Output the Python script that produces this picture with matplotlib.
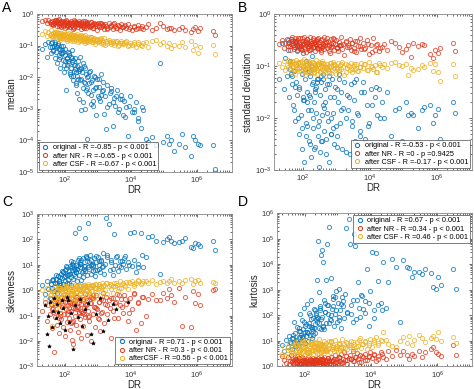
import numpy as np
import matplotlib
matplotlib.use("Agg")
import matplotlib.pyplot as plt

plt.rcParams['font.family'] = ['Liberation Sans', 'DejaVu Sans']

# log10 of DR for every sample (shared by all four panels)
DR_LOG = [
    1.31, 1.38, 1.44, 1.49, 1.53, 1.57, 1.60, 1.63, 1.66, 1.69,
    1.71, 1.73, 1.75, 1.77, 1.79, 1.81, 1.83, 1.85, 1.87, 1.89,
    1.91, 1.93, 1.95, 1.97, 1.99, 2.01, 2.03, 2.05, 2.07, 2.09,
    2.11, 2.13, 2.15, 2.17, 2.19, 2.21, 2.23, 2.25, 2.27, 2.29,
    2.31, 2.33, 2.35, 2.37, 2.39, 2.41, 2.43, 2.45, 2.47, 2.49,
    2.51, 2.53, 2.55, 2.57, 2.59, 2.61, 2.63, 2.65, 2.67, 2.69,
    2.72, 2.75, 2.78, 2.81, 2.84, 2.87, 2.90, 2.93, 2.96, 2.99,
    3.02, 3.05, 3.08, 3.11, 3.14, 3.17, 3.20, 3.24, 3.28, 3.32,
    3.36, 3.40, 3.44, 3.48, 3.52, 3.56, 3.60, 3.65, 3.70, 3.75,
    3.80, 3.86, 3.92, 3.98, 4.04, 4.10, 4.16, 4.22, 4.29, 4.36,
    4.44, 4.52, 4.62, 4.75, 4.88, 4.96, 5.08, 5.15, 5.22, 5.30,
    5.45, 5.55, 5.62, 5.80, 5.88, 5.95, 6.02, 6.10, 6.48, 6.55,
    1.56, 1.65, 1.74, 1.82, 1.90, 1.98, 2.06, 2.14, 2.22, 2.30,
    1.62, 1.78, 1.86, 1.94, 2.02, 2.10, 2.18, 2.26, 2.34, 2.42,
    2.38, 2.46, 2.54, 2.62, 2.70, 2.78, 2.86, 2.94, 3.02, 3.10,
    1.70, 1.84, 2.00, 2.12, 2.24, 2.36, 2.48, 2.60, 2.72, 2.84,
    2.20, 2.32, 2.44, 2.56, 2.68, 2.80, 2.92, 3.04, 3.16, 3.28,
    3.38, 3.46, 3.54, 3.62, 3.72, 3.82, 3.95, 4.08, 4.20, 4.32,
]

# ---- A: median (log10) ----
median_orig = [
    -1.10, -0.95, -1.35, -0.90, -1.05, -1.25, -0.88, -1.15, -1.00, -1.40,
    -0.95, -1.20, -1.05, -1.55, -0.92, -1.30, -1.12, -1.70, -1.02, -1.25,
    -1.15, -1.45, -1.00, -1.85, -1.30, -1.10, -2.40, -1.38, -1.60, -1.20,
    -1.25, -1.55, -1.90, -1.35, -1.70, -1.15, -2.10, -1.45, -1.80, -1.60,
    -1.40, -2.25, -1.65, -1.95, -1.50, -2.70, -1.75, -1.35, -2.05, -3.05,
    -1.85, -2.80, -1.55, -2.15, -3.00, -1.70, -2.40, -2.00, -3.95, -1.95,
    -2.20, -1.80, -2.55, -2.10, -2.90, -1.95, -2.35, -3.20, -2.05, -2.60,
    -2.30, -2.75, -1.90, -2.45, -2.15, -3.15, -2.60, -3.65, -2.25, -2.85,
    -2.50, -2.35, -3.55, -2.65, -2.90, -2.40, -3.10, -2.70, -2.55, -3.20,
    -2.75, -2.95, -3.85, -2.60, -3.10, -3.00, -2.80, -3.30, -3.60, -3.05,
    -3.95, -4.05, -3.90, -4.15, -1.55, -4.05, -3.85, -4.10, -4.00, -4.35,
    -4.10, -3.80, -4.20, -4.50, -3.85, -4.00, -4.10, -4.15, -4.15, -4.90,
    -0.92, -1.18, -1.02, -1.42, -1.25, -1.60, -1.38, -1.85, -1.52, -1.75,
    -1.05, -0.98, -1.35, -1.20, -1.70, -1.48, -1.95, -1.62, -2.20, -1.80,
    -2.05, -1.75, -2.35, -1.90, -2.50, -2.15, -2.75, -2.30, -2.05, -2.55,
    -0.88, -1.10, -1.50, -1.30, -1.95, -2.50, -1.70, -2.20, -1.85, -2.40,
    -1.40, -1.85, -2.10, -1.65, -2.35, -2.85, -2.00, -2.65, -2.40, -2.95,
    -2.45, -2.80, -2.60, -3.00, -2.70, -3.25, -2.90, -3.10, -3.40, -2.95,
]
median_nr = [
    -0.22, -0.20, -0.28, -0.18, -0.25, -0.32, -0.21, -0.35, -0.27, -0.19,
    -0.30, -0.24, -0.38, -0.22, -0.29, -0.17, -0.33, -0.26, -0.41, -0.23,
    -0.28, -0.36, -0.21, -0.31, -0.25, -0.44, -0.19, -0.34, -0.27, -0.38,
    -0.24, -0.32, -0.40, -0.22, -0.29, -0.35, -0.26, -0.46, -0.20, -0.31,
    -0.37, -0.25, -0.33, -0.28, -0.42, -0.23, -0.30, -0.36, -0.26, -0.48,
    -0.29, -0.34, -0.22, -0.39, -0.31, -0.27, -0.44, -0.33, -0.25, -0.37,
    -0.30, -0.41, -0.26, -0.35, -0.45, -0.28, -0.38, -0.32, -0.50, -0.30,
    -0.36, -0.27, -0.42, -0.33, -0.39, -0.47, -0.31, -0.37, -0.44, -0.29,
    -0.40, -0.34, -0.48, -0.30, -0.38, -0.43, -0.35, -0.52, -0.32, -0.41,
    -0.37, -0.45, -0.33, -0.42, -0.50, -0.38, -0.46, -0.35, -0.43, -0.49,
    -0.40, -0.32, -0.52, -0.45, -0.30, -0.38, -0.46, -0.45, -0.44, -0.50,
    -0.47, -0.42, -0.51, -0.58, -0.46, -0.40, -0.53, -0.45, -0.55, -0.65,
    -0.26, -0.33, -0.20, -0.37, -0.24, -0.30, -0.42, -0.27, -0.35, -0.22,
    -0.31, -0.19, -0.28, -0.39, -0.23, -0.34, -0.29, -0.43, -0.25, -0.36,
    -0.32, -0.27, -0.40, -0.30, -0.36, -0.24, -0.44, -0.33, -0.38, -0.28,
    -0.21, -0.36, -0.26, -0.32, -0.41, -0.28, -0.35, -0.23, -0.39, -0.31,
    -0.34, -0.27, -0.31, -0.45, -0.29, -0.37, -0.33, -0.41, -0.35, -0.46,
    -0.39, -0.33, -0.45, -0.37, -0.42, -0.35, -0.48, -0.40, -0.44, -0.38,
]
median_csf = [
    -0.62, -0.55, -0.70, -0.58, -0.66, -0.52, -0.74, -0.60, -0.68, -0.57,
    -0.72, -0.63, -0.56, -0.78, -0.65, -0.70, -0.59, -0.82, -0.67, -0.61,
    -0.75, -0.64, -0.71, -0.58, -0.80, -0.66, -0.73, -0.62, -0.86, -0.69,
    -0.60, -0.77, -0.68, -0.74, -0.63, -0.84, -0.70, -0.65, -0.79, -0.72,
    -0.67, -0.81, -0.73, -0.64, -0.88, -0.70, -0.76, -0.69, -0.83, -0.74,
    -0.78, -0.71, -0.86, -0.75, -0.68, -0.92, -0.77, -0.80, -0.72, -0.87,
    -0.79, -0.84, -0.74, -0.90, -0.81, -0.77, -0.95, -0.83, -0.78, -0.88,
    -0.85, -0.80, -0.93, -0.82, -0.89, -0.76, -0.97, -0.86, -0.91, -0.83,
    -0.88, -0.95, -0.84, -0.99, -0.90, -0.86, -1.02, -0.92, -0.87, -0.96,
    -0.91, -0.85, -1.00, -0.93, -0.97, -0.89, -1.04, -0.94, -0.98, -0.92,
    -0.90, -1.05, -0.86, -0.83, -0.95, -0.88, -1.00, -0.93, -1.08, -0.97,
    -1.02, -0.90, -1.06, -0.87, -1.15, -0.98, -1.22, -1.05, -0.98, -1.27,
    -0.64, -0.71, -0.59, -0.76, -0.68, -0.62, -0.80, -0.73, -0.66, -0.78,
    -0.69, -0.61, -0.74, -0.67, -0.79, -0.72, -0.63, -0.85, -0.70, -0.76,
    -0.75, -0.82, -0.70, -0.86, -0.78, -0.73, -0.89, -0.80, -0.84, -0.77,
    -0.58, -0.75, -0.66, -0.81, -0.71, -0.77, -0.68, -0.84, -0.74, -0.80,
    -0.79, -0.70, -0.84, -0.76, -0.90, -0.73, -0.87, -0.81, -0.94, -0.85,
    -0.89, -0.93, -0.85, -0.97, -0.91, -0.88, -0.99, -0.94, -0.90, -1.01,
]

# ---- B: standard deviation (log10) ----
std_orig = [
    -1.25, -0.55, -1.45, -0.85, -1.20, -0.50, -1.60, -1.05, -0.48, -1.35,
    -0.60, -1.75, -1.10, -0.52, -2.05, -1.30, -0.70, -1.55, -0.95, -2.30,
    -1.40, -0.58, -1.95, -1.15, -2.60, -0.75, -1.65, -2.85, -1.25, -0.90,
    -2.10, -1.50, -0.62, -1.85, -2.45, -1.20, -1.60, -2.75, -1.35, -0.80,
    -2.20, -1.70, -1.05, -2.55, -1.40, -1.90, -0.65, -2.35, -1.25, -2.95,
    -1.55, -2.65, -1.30, -1.95, -2.45, -1.15, -1.80, -2.25, -1.45, -2.70,
    -1.35, -2.05, -2.85, -1.60, -2.30, -1.25, -1.90, -2.50, -1.40, -2.15,
    -2.35, -1.70, -1.25, -2.10, -1.50, -2.60, -1.80, -1.30, -2.00, -1.55,
    -1.85, -2.70, -1.35, -2.15, -1.65, -2.45, -1.25, -1.95, -2.25, -1.50,
    -1.30, -2.40, -1.75, -2.10, -1.45, -2.50, -1.60, -1.95, -1.45, -1.70,
    -2.00, -1.50, -2.35, -1.85, -1.81, -2.45, -1.70, -1.95, -1.90, -1.94,
    -2.20, -1.85, -1.78, -1.75, -2.10, -1.95, -1.82, -2.40, -1.70, -1.90,
    -0.70, -1.15, -1.85, -0.55, -1.45, -2.20, -1.05, -1.70, -2.50, -1.30,
    -0.90, -1.40, -2.00, -0.68, -1.60, -2.35, -1.10, -1.85, -2.60, -1.25,
    -1.50, -2.15, -1.20, -1.75, -2.40, -1.35, -2.00, -1.60, -2.55, -1.15,
    -1.20, -0.62, -1.65, -2.15, -1.00, -1.45, -2.05, -1.25, -1.90, -2.30,
    -1.55, -2.00, -1.30, -2.45, -1.70, -1.20, -2.20, -1.45, -1.85, -2.65,
    -1.60, -2.05, -1.30, -1.90, -2.35, -1.50, -2.15, -1.75, -1.40, -2.00,
]
std_nr = [
    -0.58, -0.50, -0.66, -0.55, -0.48, -0.62, -0.53, -0.70, -0.57, -0.45,
    -0.60, -0.52, -0.68, -0.47, -0.63, -0.55, -0.72, -0.50, -0.59, -0.65,
    -0.54, -0.46, -0.61, -0.69, -0.51, -0.57, -0.44, -0.64, -0.53, -0.74,
    -0.58, -0.49, -0.66, -0.55, -0.62, -0.45, -0.70, -0.52, -0.60, -0.56,
    -0.47, -0.63, -0.54, -0.71, -0.59, -0.50, -0.65, -0.56, -0.46, -0.68,
    -0.61, -0.53, -0.73, -0.49, -0.64, -0.57, -0.67, -0.45, -0.60, -0.54,
    -0.66, -0.52, -0.59, -0.75, -0.48, -0.62, -0.55, -0.70, -0.58, -0.50,
    -0.63, -0.72, -0.53, -0.60, -0.44, -0.67, -0.57, -0.78, -0.51, -0.64,
    -0.59, -0.48, -0.70, -0.56, -0.65, -0.52, -0.74, -0.61, -0.46, -0.68,
    -0.55, -0.66, -0.50, -0.77, -0.60, -0.47, -0.69, -0.58, -0.72, -0.63,
    -0.57, -0.70, -0.52, -0.56, -0.64, -0.74, -0.67, -0.60, -0.82, -0.55,
    -0.62, -0.58, -0.60, -0.76, -0.84, -0.70, -0.75, -0.66, -0.56, -0.72,
    -0.56, -0.49, -0.64, -0.52, -0.61, -0.46, -0.68, -0.54, -0.59, -0.50,
    -0.62, -0.53, -0.47, -0.66, -0.57, -0.51, -0.70, -0.55, -0.63, -0.48,
    -0.58, -0.65, -0.50, -0.61, -0.54, -0.72, -0.57, -0.49, -0.66, -0.60,
    -0.51, -0.60, -0.55, -0.48, -0.67, -0.53, -0.62, -0.58, -0.46, -0.64,
    -0.57, -0.63, -0.52, -0.69, -0.55, -0.61, -0.47, -0.66, -0.59, -0.53,
    -0.64, -0.56, -0.71, -0.52, -0.62, -0.68, -0.57, -0.74, -0.60, -0.66,
]
std_csf = [
    -0.95, -1.02, -0.90, -1.08, -0.98, -0.88, -1.05, -0.93, -1.12, -0.97,
    -1.00, -0.91, -1.07, -0.96, -1.15, -0.89, -1.03, -0.99, -0.94, -1.10,
    -1.04, -0.92, -0.98, -1.13, -0.95, -1.06, -0.87, -1.01, -1.18, -0.96,
    -0.99, -1.09, -0.93, -1.02, -0.90, -1.14, -0.97, -1.05, -0.92, -1.00,
    -1.07, -0.94, -1.11, -0.98, -1.03, -0.89, -1.16, -0.96, -1.04, -0.93,
    -1.01, -1.12, -0.95, -1.06, -0.91, -1.00, -1.09, -0.97, -1.20, -1.02,
    -0.96, -1.05, -1.13, -0.94, -1.01, -1.08, -0.92, -1.04, -0.99, -1.15,
    -1.03, -0.95, -1.10, -0.99, -1.06, -0.93, -1.02, -1.17, -0.97, -1.04,
    -0.98, -1.07, -0.94, -1.12, -1.00, -1.05, -0.96, -1.09, -1.01, -0.95,
    -1.03, -0.97, -1.08, -0.93, -1.00, -1.06, -0.99, -1.11, -0.95, -1.02,
    -0.97, -1.04, -0.94, -0.92, -0.98, -1.00, -0.96, -1.17, -1.03, -1.08,
    -1.05, -0.99, -1.02, -0.95, -1.10, -0.97, -1.12, -1.29, -0.97, -1.20,
    -1.01, -0.94, -1.08, -0.97, -1.04, -0.90, -1.11, -0.99, -1.06, -0.95,
    -0.96, -1.05, -0.92, -1.10, -1.00, -1.07, -0.94, -1.02, -1.13, -0.98,
    -1.02, -0.97, -1.09, -0.95, -1.05, -1.00, -1.14, -0.96, -1.03, -1.08,
    -0.93, -1.06, -1.00, -0.95, -1.11, -1.03, -0.97, -1.08, -1.01, -0.94,
    -1.04, -0.99, -1.07, -0.94, -1.02, -1.10, -0.98, -1.05, -0.96, -1.12,
    -1.00, -1.06, -0.97, -1.09, -1.02, -0.96, -1.07, -1.01, -1.11, -0.98,
]

# ---- C: skewness (log10) ----
skew_orig = [
    0.20, -0.15, 0.35, 0.05, -0.30, 0.25, 0.10, 0.40, -0.05, 0.30,
    0.15, 0.45, -0.10, 0.30, 0.55, 0.05, 0.38, 0.20, 0.62, 0.12,
    0.48, 0.25, 0.70, 0.10, 0.55, 0.35, 0.85, 0.28, 0.60, 0.42,
    0.75, 0.30, 0.95, 0.50, 0.20, 0.80, 1.10, 0.45, 0.65, 2.25,
    0.55, 1.00, 0.35, 0.85, 1.20, 0.60, 2.45, 0.90, 0.40, 1.05,
    0.70, 1.25, 0.50, 0.95, 2.05, 0.75, 1.35, 0.60, 1.15, 2.65,
    0.85, 1.40, 0.65, 1.05, 0.95, 1.25, 0.55, 1.10, 0.80, 1.30,
    1.00, 0.70, 1.20, 0.90, 1.45, 0.65, 1.05, 2.85, 1.30, 2.60,
    0.80, 1.20, 0.60, 2.20, 1.00, 1.35, 0.75, 1.15, 0.90, 1.05,
    1.25, 0.85, 1.10, 2.25, 0.95, 2.30, 0.70, 1.05, 2.25, 0.90,
    1.30, 2.10, 2.15, 1.95, 0.65, 1.90, 2.00, 2.10, 1.95, 1.85,
    1.90, 1.95, 2.05, 1.70, 1.65, 1.85, 1.80, 1.75, 1.95, 1.60,
    0.25, 0.45, 0.60, 0.35, 0.75, 0.50, 0.90, 0.65, 1.05, 0.80,
    0.40, 0.55, 0.30, 0.70, 0.95, 0.60, 1.15, 0.85, 0.70, 1.25,
    0.95, 1.10, 0.75, 1.30, 0.90, 1.20, 1.00, 1.35, 0.85, 1.15,
    0.30, 0.50, 0.80, 0.65, 1.00, 0.85, 1.20, 0.95, 1.10, 0.75,
    0.90, 0.70, 1.05, 0.85, 1.25, 1.00, 0.80, 1.15, 0.95, 1.40,
    1.10, 0.85, 1.30, 0.95, 1.15, 1.35, 1.00, 1.20, 0.90, 1.40,
]
skew_nr = [
    -0.80, -0.45, -1.20, -0.60, -0.95, -0.35, -1.50, -0.70, -2.45, -0.50,
    -1.05, -0.30, -0.85, -1.35, -0.55, -1.70, -0.40, -0.90, -1.15, -0.25,
    -0.65, -1.45, -0.50, -0.95, -1.80, -0.35, -0.75, -1.25, -0.20, -0.60,
    -1.10, -0.45, -1.55, -0.80, -0.30, -1.95, -0.70, -2.10, -0.50, -1.00,
    -0.40, -1.35, -0.65, -0.25, -1.65, -0.85, -0.45, -1.15, -1.90, -0.55,
    -0.90, -0.35, -1.40, -0.70, -0.15, -1.05, -0.60, -1.75, -0.40, -0.80,
    -1.20, -0.50, -2.00, -0.30, -0.95, -0.65, -1.45, -0.20, -0.75, -1.10,
    -0.45, -1.60, -0.35, -0.85, -0.10, -1.30, -0.55, -0.25, -0.95, -0.40,
    -0.70, -1.90, -0.30, -1.10, -0.50, -0.15, -1.10, -0.60, -0.35, -0.90,
    -0.20, -0.55, -1.20, -0.30, -0.75, -0.10, -1.55, -0.45, -1.30, -0.25,
    -1.00, -0.35, -0.15, -0.40, -0.37, -0.10, -0.30, 0.05, -0.20, -0.45,
    0.10, -1.40, -0.25, -1.43, -0.05, -0.50, -0.15, -0.60, 0.00, 0.05,
    -0.55, -0.85, -0.40, -1.10, -0.65, -0.30, -0.95, -0.50, -1.25, -0.70,
    -0.75, -0.45, -1.00, -0.60, -0.35, -0.80, -1.30, -0.55, -0.25, -0.90,
    -0.65, -0.40, -0.85, -0.30, -1.05, -0.50, -0.20, -0.70, -0.45, -0.90,
    -0.60, -0.90, -0.45, -0.70, -1.20, -0.35, -0.80, -0.55, -1.00, -0.30,
    -0.50, -0.75, -0.35, -0.95, -0.55, -0.25, -0.65, -1.15, -0.40, -0.60,
    -0.30, -0.80, -0.45, -0.20, -0.65, -0.35, -0.90, -0.15, -0.50, -0.25,
]
skew_csf = [
    0.00, -0.35, 0.10, -0.60, -0.20, 0.05, -1.40, -0.45, -0.10, 0.15,
    -0.25, -0.75, 0.00, -0.40, 0.12, -0.15, -0.55, 0.08, -0.30, -0.90,
    0.05, -0.20, -0.50, 0.15, -0.05, -0.35, 0.10, -0.65, -0.10, 0.18,
    -0.25, 0.05, -0.40, 0.12, -0.15, -0.05, 0.20, -0.30, 0.00, -0.55,
    0.10, -0.20, 0.15, -0.08, -0.35, 0.22, 0.02, -0.15, 0.18, -0.02,
    -0.25, 0.12, 0.05, -0.40, 0.20, -0.10, 0.15, 0.00, -0.20, 0.25,
    0.08, -0.15, 0.22, -0.05, 0.15, -0.30, 0.10, 0.25, -0.10, 0.05,
    0.18, -0.20, 0.12, 0.28, -0.08, 0.20, 0.02, 0.30, -0.15, 0.15,
    0.25, 0.05, -0.10, 0.30, 0.15, 0.22, -0.05, 0.35, 0.10, 0.28,
    0.20, 0.32, 0.05, 0.27, 0.38, 0.15, 0.30, 0.40, 0.25, 0.35,
    0.37, 0.30, 0.42, 0.25, 0.33, 0.38, 0.28, 0.35, 0.45, 0.30,
    0.35, 0.28, 0.40, 0.45, 0.25, 0.38, 0.42, 0.30, 0.33, 0.30,
    -0.15, 0.05, -0.30, 0.10, -0.05, -0.20, 0.12, -0.10, 0.02, -0.35,
    -0.05, -0.25, 0.08, -0.12, 0.15, -0.02, -0.18, 0.10, -0.08, 0.18,
    0.05, -0.10, 0.20, 0.00, 0.15, -0.05, 0.22, 0.08, 0.25, 0.12,
    -0.45, 0.00, -0.15, 0.10, -0.05, 0.18, 0.02, 0.12, -0.08, 0.20,
    -0.10, 0.15, 0.05, 0.20, -0.02, 0.12, 0.25, 0.08, 0.18, 0.28,
    0.22, 0.15, 0.30, 0.10, 0.26, 0.18, 0.32, 0.24, 0.35, 0.28,
]
# black asterisks in panel C (log10 DR, log10 skewness)
star_dr_log = [1.40, 1.44, 1.48, 1.52, 1.55, 1.60, 1.64, 1.68, 1.72, 1.76,
               1.80, 1.85, 1.90, 1.95, 2.00, 2.05, 2.10, 2.13, 2.18, 2.24,
               2.30, 2.38, 2.45, 2.52, 2.60, 2.70, 2.78, 2.85, 2.95, 3.05,
               3.15, 3.30, 3.45, 3.53, 3.68, 3.90]
star_skew_log = [-0.60, -1.73, -1.00, -2.20, -0.45, -1.43, -0.80, -0.30, -1.10, -0.55,
                 -0.85, -1.30, -0.40, -0.70, -1.55, -0.25, -0.40, -1.24, -0.90, -2.30,
                 -0.60, -1.05, -0.35, -1.40, -0.75, -0.50, -1.73, -2.07, -0.95, -0.30,
                 -1.60, -1.16, -0.55, -0.75, -1.93, -0.45]

# ---- D: kurtosis (log10) ----
kurt_orig = [
    0.85, 0.60, 1.05, 0.75, 1.20, 0.90, 0.70, 1.10, 1.75, 0.95,
    1.30, 0.80, 1.55, 1.00, 0.85, 1.40, 1.15, 2.05, 0.95, 1.25,
    1.80, 1.05, 1.45, 2.30, 0.90, 1.60, 1.20, 2.45, 1.35, 1.00,
    1.70, 2.10, 1.25, 1.55, 2.60, 1.10, 1.90, 1.40, 2.25, 1.65,
    1.30, 2.00, 3.40, 1.75, 4.93, 2.90, 1.50, 2.35, 1.85, 4.35,
    4.55, 1.95, 4.10, 2.60, 1.45, 2.15, 3.40, 1.70, 4.78, 2.40,
    5.47, 1.85, 3.45, 2.25, 2.75, 1.60, 2.05, 2.95, 1.75, 2.50,
    3.05, 2.20, 1.50, 2.70, 2.35, 1.90, 2.85, 5.40, 2.10, 5.77,
    4.80, 2.40, 1.75, 5.20, 4.70, 2.60, 3.30, 1.95, 2.80, 2.25,
    2.55, 3.80, 1.60, 2.95, 4.47, 2.20, 4.45, 3.35, 2.50, 4.10,
    2.30, 3.30, 4.20, 3.90, 1.75, 4.15, 3.90, 3.85, 3.50, 3.70,
    3.70, 3.60, 3.80, 3.65, 3.10, 3.05, 3.50, 3.20, 3.80, 3.05,
    0.95, 1.25, 1.05, 1.50, 1.15, 1.75, 1.35, 2.00, 1.55, 2.20,
    1.10, 0.90, 1.40, 1.20, 1.65, 1.30, 1.85, 1.50, 2.10, 1.70,
    1.90, 2.30, 1.60, 2.50, 2.05, 1.80, 2.65, 2.20, 1.95, 2.45,
    0.80, 1.15, 1.35, 1.60, 1.25, 1.95, 1.45, 2.15, 1.70, 2.35,
    1.45, 1.85, 2.20, 1.55, 2.40, 2.00, 2.70, 1.80, 2.55, 2.15,
    2.05, 2.60, 1.85, 2.30, 2.75, 2.10, 2.50, 1.90, 2.40, 2.20,
]
kurt_nr = [
    0.40, 0.25, 0.15, 0.35, 0.10, 0.45, 0.20, 0.30, 0.08, 0.38,
    0.18, 0.28, 0.12, 0.42, 0.22, 0.05, 0.32, 0.15, 0.26, 0.10,
    0.35, 0.20, 0.08, 0.30, 0.16, 0.24, 0.04, 0.28, 0.12, 0.36,
    0.22, 0.10, 0.30, 0.18, 0.06, 0.26, 0.14, 0.34, 0.20, 0.09,
    0.28, 0.15, 0.24, 0.05, 0.32, 0.19, 0.11, 0.27, 0.17, 0.40,
    0.12, 0.30, 0.22, 0.08, 0.36, 0.16, 0.26, 0.04, 0.20, 0.33,
    0.25, 0.14, 0.38, 0.20, 0.10, 0.30, 0.45, 0.18, 0.28, 0.12,
    0.35, 0.22, 0.48, 0.15, 0.30, 0.55, 0.25, 0.40, 0.10, 0.32,
    0.45, 0.28, 0.60, 0.20, 0.38, 0.52, 0.30, 0.44, 0.18, 0.36,
    0.50, 0.25, 0.42, 0.58, 0.33, 0.48, 0.22, 0.40, 0.55, 0.35,
    0.30, 0.62, 0.42, 0.66, 0.45, 0.60, 0.45, 0.30, 0.50, 0.40,
    0.60, 0.38, 0.55, 0.70, 0.75, 0.55, 0.48, 0.40, 0.85, 0.45,
    0.22, 0.14, 0.30, 0.08, 0.25, 0.18, 0.12, 0.28, 0.06, 0.20,
    0.16, 0.26, 0.10, 0.32, 0.19, 0.07, 0.24, 0.13, 0.29, 0.17,
    0.21, 0.11, 0.27, 0.15, 0.33, 0.09, 0.23, 0.18, 0.36, 0.14,
    0.29, 0.13, 0.20, 0.07, 0.25, 0.16, 0.31, 0.10, 0.22, 0.27,
    0.12, 0.24, 0.18, 0.30, 0.08, 0.21, 0.15, 0.34, 0.19, 0.26,
    0.30, 0.22, 0.38, 0.17, 0.42, 0.26, 0.35, 0.45, 0.28, 0.50,
]
kurt_csf = [
    0.50, 0.75, 0.40, 0.65, 0.90, 0.55, 0.80, 0.45, 0.70, 0.95,
    0.60, 0.85, 0.48, 0.72, 1.00, 0.58, 0.82, 0.42, 0.68, 0.92,
    0.55, 0.78, 1.05, 0.62, 0.46, 0.88, 0.70, 0.52, 0.95, 0.64,
    0.80, 0.44, 0.74, 1.02, 0.58, 0.86, 0.66, 0.50, 0.90, 0.72,
    0.62, 0.96, 0.54, 0.78, 0.68, 1.08, 0.48, 0.84, 0.70, 0.58,
    0.88, 0.64, 0.76, 0.52, 1.00, 0.70, 0.60, 0.92, 0.66, 0.82,
    0.74, 0.56, 0.98, 0.68, 0.84, 0.62, 1.04, 0.72, 0.80, 0.58,
    0.90, 0.66, 0.78, 1.06, 0.60, 0.86, 0.74, 0.96, 0.70, 0.82,
    0.76, 1.00, 0.68, 0.88, 0.64, 0.94, 0.80, 1.10, 0.72, 0.86,
    0.98, 0.70, 0.90, 1.08, 0.78, 0.95, 1.15, 0.82, 1.02, 1.35,
    1.05, 0.88, 0.80, 0.78, 1.00, 1.15, 0.92, 1.20, 0.85, 1.05,
    1.23, 1.10, 0.95, 1.12, 1.20, 1.08, 1.35, 1.00, 1.15, 0.90,
    0.68, 0.52, 0.84, 0.60, 0.92, 0.74, 0.56, 0.88, 0.66, 0.80,
    0.58, 0.78, 0.64, 0.96, 0.70, 0.54, 0.86, 0.76, 0.62, 0.90,
    0.72, 0.88, 0.60, 0.82, 0.68, 0.94, 0.76, 0.64, 0.86, 0.74,
    0.86, 0.62, 0.80, 0.56, 0.92, 0.70, 0.84, 0.66, 0.98, 0.78,
    0.66, 0.90, 0.74, 0.84, 0.60, 0.96, 0.72, 0.88, 0.78, 0.92,
    0.84, 0.96, 0.78, 1.02, 0.88, 0.94, 0.82, 1.05, 0.90, 1.00,
]

LEGENDS = {
    'A': ["original - R =-0.85 - p < 0.001", "after NR - R =-0.65 - p < 0.001",
          "after CSF - R =-0.67 - p < 0.001"],
    'B': ["original - R =-0.53 - p < 0.001", "after NR - R =0 - p =0.9425",
          "after CSF - R =-0.17 - p < 0.001"],
    'C': ["original - R =0.71 - p < 0.001", "after NR - R =0.3 - p < 0.001",
          "afterCSF - R =0.56 - p < 0.001"],
    'D': ["original - R =0.67 - p < 0.001", "after NR - R =0.34 - p < 0.001",
          "after CSF - R =0.46 - p < 0.001"],
}

COLORS = ['#0072BD', '#E2361A', '#EDB120']

fig = plt.figure(figsize=(4.74, 3.89), dpi=100)

panels = [
    ('A', [0.078, 0.558, 0.411, 0.406], 'median', (median_orig, median_nr, median_csf),
     (-5, 0), 'lower left'),
    ('B', [0.578, 0.563, 0.418, 0.401], 'standard deviation', (std_orig, std_nr, std_csf),
     (-3, 0), 'lower right'),
    ('C', [0.078, 0.058, 0.411, 0.392], 'skewness', (skew_orig, skew_nr, skew_csf),
     (-3, 3), 'lower right'),
    ('D', [0.584, 0.058, 0.412, 0.394], 'kurtosis', (kurt_orig, kurt_nr, kurt_csf),
     (0, 6), 'upper right'),
]

dr = 10 ** np.array(DR_LOG)

for letter, rect, ylabel, series, ylim, loc in panels:
    ax = fig.add_axes(rect)
    handles = []
    for vals, col, lab in zip(series, COLORS, LEGENDS[letter]):
        h, = ax.plot(dr, 10 ** np.array(vals), 'o', mfc='none', mec=col, ms=3.0,
                     mew=0.7, alpha=0.75, label=lab)
        handles.append(h)
    if letter == 'C':
        ax.plot(10 ** np.array(star_dr_log), 10 ** np.array(star_skew_log), '*',
                color='black', ms=2.8, mew=0.4)
    ax.set_xscale('log')
    ax.set_yscale('log')
    ax.set_xlim(10 ** 1.15, 10 ** 7.05)
    ax.set_ylim(10.0 ** ylim[0], 10.0 ** ylim[1])
    ax.set_xticks([1e2, 1e4, 1e6])
    ax.set_yticks([10.0 ** k for k in range(ylim[0], ylim[1] + 1)])
    ax.tick_params(which='both', direction='in', top=True, right=True,
                   labelsize=5.5, width=0.5, colors='#333333', pad=2)
    ax.tick_params(which='major', length=2.5)
    ax.tick_params(which='minor', length=1.3)
    for sp in ax.spines.values():
        sp.set_color('#888888')
        sp.set_linewidth(0.6)
    ax.set_xlabel('DR', fontsize=7, labelpad=-0.5, color='#262626')
    ax.set_ylabel(ylabel, fontsize=7, labelpad=1, color='#262626')
    leg = ax.legend(handles=handles, loc=loc, fontsize=5.3, frameon=True, fancybox=False,
                    borderpad=0.25, handlelength=1.2, handletextpad=0.4, labelspacing=0.15,
                    borderaxespad=0.3)
    leg.get_frame().set_edgecolor('#444444')
    leg.get_frame().set_linewidth(0.6)
    for lh in leg.legend_handles:
        lh.set_alpha(1)

fig.text(0.004, 0.998, 'A', fontsize=10, va='top', ha='left')
fig.text(0.502, 0.998, 'B', fontsize=10, va='top', ha='left')
fig.text(0.004, 0.499, 'C', fontsize=10, va='top', ha='left')
fig.text(0.502, 0.499, 'D', fontsize=10, va='top', ha='left')

fig.savefig('out.png', dpi=100)
